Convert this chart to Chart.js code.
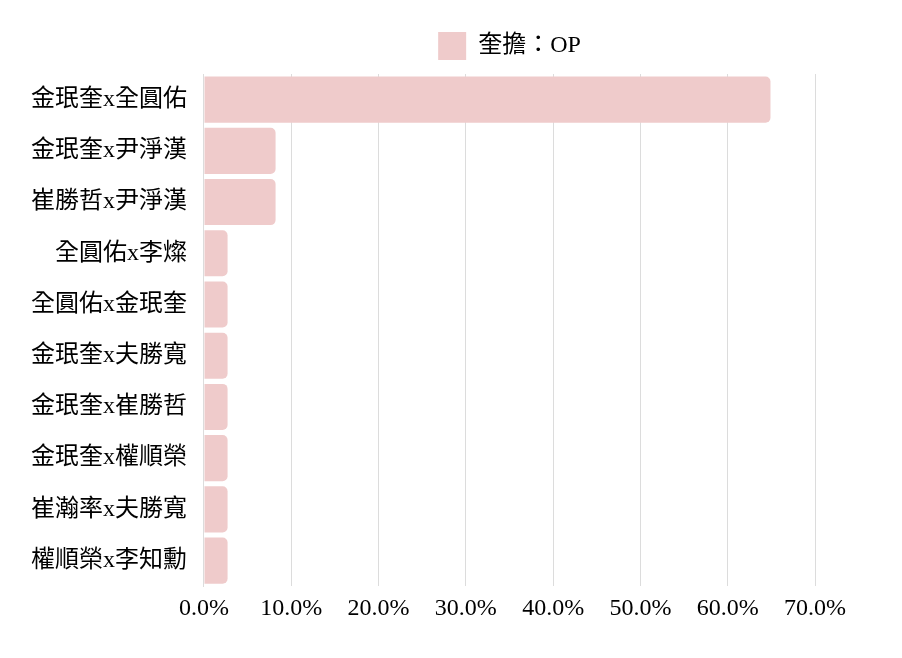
<!DOCTYPE html>
<html>
<head>
<meta charset="utf-8">
<script src="https://cdn.jsdelivr.net/npm/chart.js@4/dist/chart.umd.min.js"></script>
<style>
  html, body { margin: 0; padding: 0; background: #fff; }
  #wrap { width: 902px; height: 658px; }
</style>
</head>
<body>
<div id="wrap"><canvas id="chart"></canvas></div>
<script>
const pairs = ['金珉奎x全圓佑', '金珉奎x尹淨漢', '崔勝哲x尹淨漢', '全圓佑x李燦', '全圓佑x金珉奎',
    '金珉奎x夫勝寬', '金珉奎x崔勝哲', '金珉奎x權順榮', '崔瀚率x夫勝寬', '權順榮x李知勳'];
const opShare = [64.9, 8.2, 8.2, 2.7, 2.7, 2.7, 2.7, 2.7, 2.7, 2.7];
const seriesName = '奎擔：OP';

const fontFamily = "'Liberation Serif', 'Times New Roman', 'Noto Sans CJK TC', serif";
const ctx = document.getElementById('chart').getContext('2d');

// a little more room under the legend
const legendGap = {
    id: 'legendGap',
    beforeInit(chart) {
        const fit = chart.legend.fit;
        chart.legend.fit = function () {
            fit.bind(chart.legend)();
            this.height += 4;
        };
    }
};

new Chart(ctx, {
    type: 'bar',
    data: {
        labels: pairs,
        datasets: [{
            label: seriesName,
            data: opShare,
            backgroundColor: '#efcbcb',
            borderRadius: 5,
            barPercentage: 0.9,
            categoryPercentage: 1.0
        }]
    },
    options: {
        indexAxis: 'y',
        responsive: true,
        maintainAspectRatio: false,
        animation: false,
        layout: { padding: { left: 22, right: 87, top: 22, bottom: 27 } },
        plugins: {
            legend: {
                fullSize: false,
                labels: {
                    color: '#000',
                    boxWidth: 28,
                    boxHeight: 28,
                    font: { family: fontFamily, size: 24 }
                }
            },
            tooltip: { enabled: false }
        },
        scales: {
            x: {
                beginAtZero: true,
                max: 70,
                ticks: {
                    stepSize: 10,
                    color: '#000',
                    padding: 8,
                    font: { family: fontFamily, size: 24 },
                    callback: v => v.toFixed(1) + '%'
                },
                grid: { color: '#dcdcdc', drawTicks: false },
                border: { display: false }
            },
            y: {
                ticks: {
                    color: '#000',
                    padding: 9,
                    font: { family: fontFamily, size: 24 }
                },
                grid: { display: false },
                border: { display: true, color: '#dcdcdc' }
            }
        }
    },
    plugins: [legendGap]
});
</script>
</body>
</html>
